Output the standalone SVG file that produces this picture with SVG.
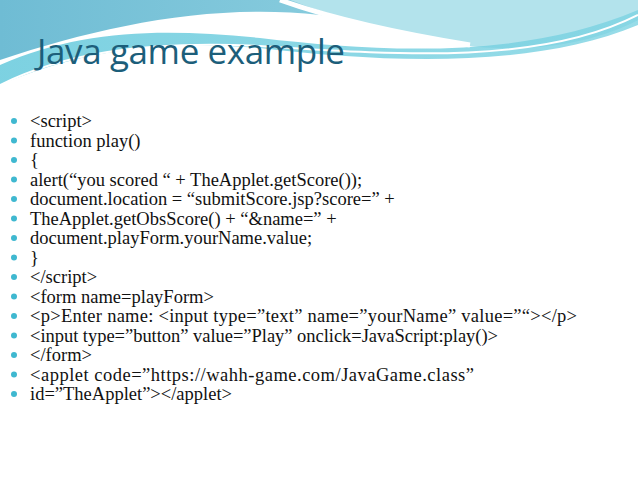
<svg xmlns="http://www.w3.org/2000/svg" width="638" height="478" viewBox="0 0 638 478">
<defs>
<linearGradient id="g1" x1="0" y1="0" x2="1" y2="0"><stop offset="0" stop-color="#6fbcd4"/><stop offset="0.5" stop-color="#86cbdd"/><stop offset="1" stop-color="#b3e3ec"/></linearGradient>
<linearGradient id="g2" x1="0" y1="0" x2="1" y2="0"><stop offset="0" stop-color="#5cc6da"/><stop offset="1" stop-color="#7dd3e2"/></linearGradient>
<style>
.b{fill:#3fb8d0}
.t{font-family:"Liberation Serif",serif;font-size:18.5px;fill:#111}
</style>
</defs>
<rect width="638" height="478" fill="#fff"/>
<g id="waves">
<path d="M0 0 H638 V20 C560 55 470 45 380 25 C250 -5 120 20 0 60 Z" fill="url(#g1)"/>
<path d="M290 0 C330 15 380 30 460 45 C540 55 600 40 638 20 V0 Z" fill="#b3e3ec"/>
<path d="M0 65 C80 30 160 28 260 38 C380 52 520 60 638 10 V25 C530 70 380 62 260 48 C160 40 80 50 0 85 Z" fill="url(#g2)" opacity="0.8"/>
<path d="M0 85 C60 55 140 40 260 46 C400 55 540 65 638 15" fill="none" stroke="#fff" stroke-width="2"/>
<path d="M280 0 C330 18 390 32 470 45" fill="none" stroke="#fff" stroke-width="5"/>
</g>
<g id="title"><text x="37" y="64" font-family="'Open Sans','Liberation Sans',sans-serif" font-size="35" fill="#1c5e7a" textLength="308">Java game example</text></g>
<g id="bullets">
<circle class="b" cx="14" cy="121" r="3"/><circle class="b" cx="14" cy="140.5" r="3"/><circle class="b" cx="14" cy="160" r="3"/><circle class="b" cx="14" cy="179.5" r="3"/><circle class="b" cx="14" cy="199" r="3"/><circle class="b" cx="14" cy="218.5" r="3"/><circle class="b" cx="14" cy="238" r="3"/><circle class="b" cx="14" cy="257.5" r="3"/><circle class="b" cx="14" cy="277" r="3"/><circle class="b" cx="14" cy="296.5" r="3"/><circle class="b" cx="14" cy="316" r="3"/><circle class="b" cx="14" cy="335.5" r="3"/><circle class="b" cx="14" cy="355" r="3"/><circle class="b" cx="14" cy="374.5" r="3"/><circle class="b" cx="14" cy="394" r="3"/>
</g>
<g id="code">
<text class="t" x="30" y="127">&lt;script&gt;</text>
<text class="t" x="30" y="146.5">function play()</text>
<text class="t" x="30" y="166">{</text>
<text class="t" x="30" y="185.5">alert(“you scored “ + TheApplet.getScore());</text>
<text class="t" x="30" y="205">document.location = “submitScore.jsp?score=” +</text>
<text class="t" x="30" y="224.5">TheApplet.getObsScore() + “&amp;name=” +</text>
<text class="t" x="30" y="244">document.playForm.yourName.value;</text>
<text class="t" x="30" y="263.5">}</text>
<text class="t" x="30" y="283">&lt;/script&gt;</text>
<text class="t" x="30" y="302.5">&lt;form name=playForm&gt;</text>
<text class="t" x="30" y="322" textLength="547">&lt;p&gt;Enter name: &lt;input type=”text” name=”yourName” value=”“&gt;&lt;/p&gt;</text>
<text class="t" x="30" y="341.5" textLength="468">&lt;input type=”button” value=”Play” onclick=JavaScript:play()&gt;</text>
<text class="t" x="30" y="361">&lt;/form&gt;</text>
<text class="t" x="30" y="380.5" textLength="444">&lt;applet code=”https://wahh-game.com/JavaGame.class”</text>
<text class="t" x="30" y="400">id=”TheApplet”&gt;&lt;/applet&gt;</text>
</g>
</svg>
